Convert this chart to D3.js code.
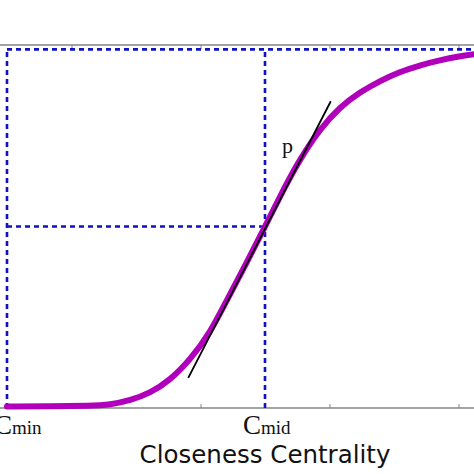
<!DOCTYPE html>
<html>
<head>
<meta charset="utf-8">
<script src="https://cdn.jsdelivr.net/npm/d3@7"></script>
<style>
  html, body { margin: 0; padding: 0; background: #fff; }
  svg { display: block; }
</style>
</head>
<body>
<svg id="chart" width="474" height="474"></svg>
<script>
// ---- data ----
const xTicks = [0.2, 0.4, 0.6, 0.8];
const cMin = 0.1;
const cMid = 0.5;
const yMid = 0.5;
const yTop = 0.988;
const curveX = [0.100, 0.167, 0.229, 0.260, 0.291, 0.322, 0.353, 0.384, 0.415, 0.441, 0.471, 0.500, 0.531, 0.554, 0.585, 0.616, 0.647, 0.678, 0.709, 0.740, 0.771, 0.802, 0.824, 0.850];
const curveY = [0.004, 0.005, 0.006, 0.009, 0.021, 0.041, 0.077, 0.133, 0.207, 0.298, 0.398, 0.500, 0.610, 0.685, 0.768, 0.829, 0.870, 0.901, 0.926, 0.944, 0.958, 0.969, 0.975, 0.980];
const tangentX = [0.381, 0.602];
const tangentY = [0.083, 0.845];
const labelMin = ["C", "min"];
const labelMid = ["C", "mid"];
const tangentLabel = "p";
const xTitle = "Closeness Centrality";

(function () {
// ---- scales ----
const svg = d3.select("#chart");
const x = d3.scaleLinear().domain([0.1, 0.8]).range([7, 458.5]);
const y = d3.scaleLinear().domain([0, 1]).range([408, 45]);
const xl = x.invert(-5), xr = x.invert(480);

// ---- axes (frame lines with inward ticks) ----
const axisColor = "#858585";
const bottomAxis = svg.append("g").attr("transform", `translate(0,${y(0)})`)
  .call(d3.axisTop(x).tickValues(xTicks).tickSize(4).tickFormat(""));
bottomAxis.select(".domain").remove();
bottomAxis.selectAll("line").attr("stroke", axisColor).attr("stroke-width", 1);
svg.append("line").attr("x1", x(xl)).attr("x2", x(xr)).attr("y1", y(0)).attr("y2", y(0))
  .attr("stroke", axisColor).attr("stroke-width", 1.6);

const topAxis = svg.append("g").attr("transform", `translate(0,${y(1)})`)
  .call(d3.axisBottom(x).tickValues(xTicks).tickSize(4).tickFormat(""));
topAxis.select(".domain").remove();
topAxis.selectAll("line").attr("stroke", axisColor).attr("stroke-width", 1);
svg.append("line").attr("x1", x(xl)).attr("x2", x(xr)).attr("y1", y(1)).attr("y2", y(1))
  .attr("stroke", axisColor).attr("stroke-width", 1.6);

// ---- dashed guide lines ----
const blue = "#1010c4";
const guides = [
  [[cMin, 0], [cMin, yTop]],
  [[cMin, yTop], [xr, yTop]],
  [[cMid, 0], [cMid, yTop]],
  [[cMin, yMid], [cMid, yMid]]
];
svg.append("g").selectAll("line").data(guides).join("line")
  .attr("x1", d => x(d[0][0])).attr("y1", d => y(d[0][1]))
  .attr("x2", d => x(d[1][0])).attr("y2", d => y(d[1][1]))
  .attr("stroke", blue).attr("stroke-width", 2.6)
  .attr("stroke-dasharray", "5,4");

// ---- sigmoid curve ----
const pts = curveX.map((v, i) => [v, curveY[i]]);
svg.append("path").datum(pts)
  .attr("d", d3.line().x(d => x(d[0])).y(d => y(d[1])).curve(d3.curveBasis))
  .attr("fill", "none").attr("stroke", "#b000bc").attr("stroke-width", 6)
  .attr("stroke-linecap", "round");

// ---- tangent line ----
svg.append("line")
  .attr("x1", x(tangentX[0])).attr("y1", y(tangentY[0]))
  .attr("x2", x(tangentX[1])).attr("y2", y(tangentY[1]))
  .attr("stroke", "#000").attr("stroke-width", 1.8);

svg.append("text").attr("x", x(cMid) + 17).attr("y", 153)
  .attr("font-family", "Liberation Serif, serif").attr("font-size", 22)
  .attr("fill", "#111").text(tangentLabel);

// ---- C labels ----
function cLabel(val, parts, dx) {
  const t = svg.append("text").attr("x", x(val) + dx).attr("y", 434)
    .attr("font-family", "Liberation Serif, serif").attr("fill", "#111");
  t.append("tspan").attr("font-size", 27).text(parts[0]);
  t.append("tspan").attr("font-size", 19).text(parts[1]);
}
cLabel(cMin, labelMin, -13);
cLabel(cMid, labelMid, -22);

// ---- x title ----
svg.append("text").attr("x", x(cMid)).attr("y", 463)
  .attr("text-anchor", "middle")
  .attr("font-family", "DejaVu Sans, sans-serif").attr("font-size", 24.5)
  .attr("fill", "#111").text(xTitle);
})();
</script>
</body>
</html>
